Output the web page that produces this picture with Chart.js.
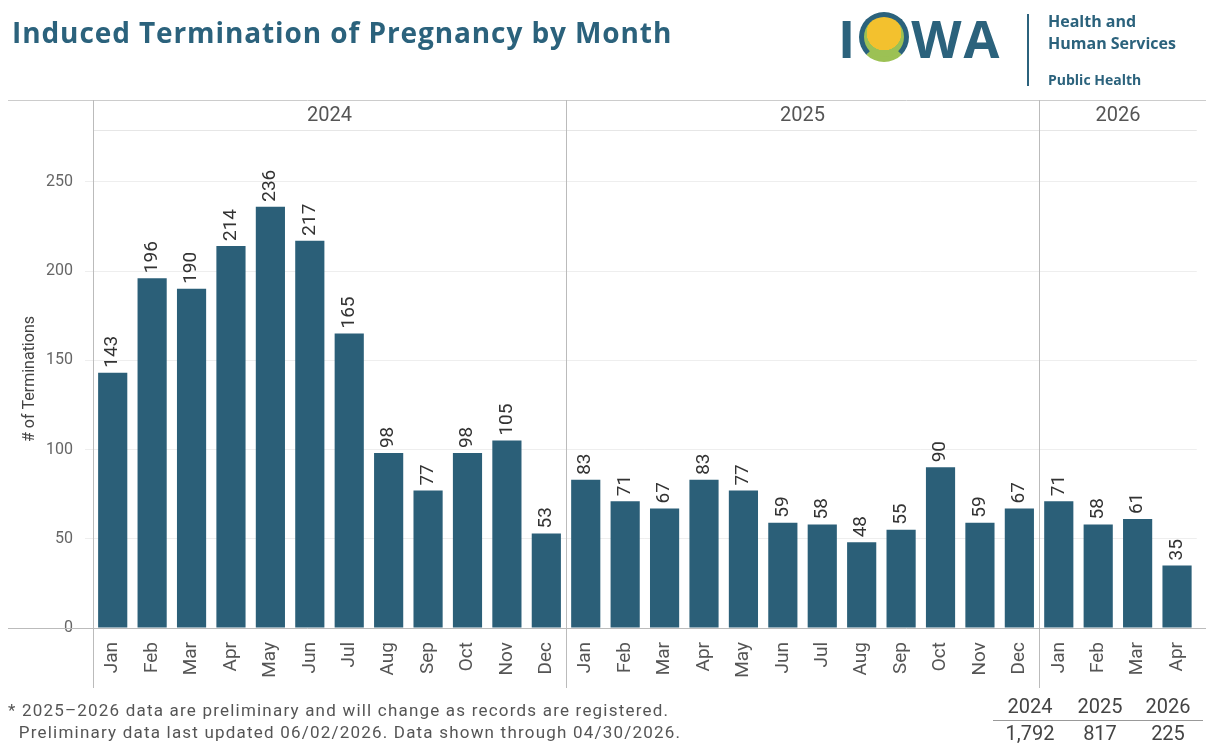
<!DOCTYPE html>
<html><head><meta charset="utf-8">
<script src="https://cdn.jsdelivr.net/npm/chart.js@4"></script>
<style>
body{margin:0;width:1206px;height:750px;background:#fff;font-family:Roboto,"Open Sans",sans-serif;position:relative;overflow:hidden}
.abs{position:absolute;white-space:nowrap}
#c{position:absolute;left:0;top:0}
</style></head><body>
<canvas id="c" width="1206" height="750"></canvas>
<div class="abs" style="left:12px;top:13px;font:bold 28px 'Open Sans',sans-serif;color:#2b627c;letter-spacing:0.9px">Induced Termination of Pregnancy by Month</div>
<div class="abs" style="left:838px;top:2px;font:bold 52px 'Open Sans',sans-serif;color:#2b627c;letter-spacing:2px">I<span style="display:inline-block;width:40px;height:40px;border-radius:50%;background:radial-gradient(circle at 50% 40%,#f3c12e 55%,#9cc154 56%);border:5px solid #2b627c;border-bottom-color:#9cc154;vertical-align:-4px;margin:0 2px"></span>WA</div>
<div class="abs" style="left:1027px;top:14px;width:2px;height:72px;background:#2b627c"></div>
<div class="abs" style="left:1048px;top:10px;font:bold 16px 'Open Sans',sans-serif;color:#2b627c;line-height:22px">Health and<br>Human Services</div>
<div class="abs" style="left:1048px;top:70px;font:bold 14px 'Open Sans',sans-serif;color:#2b627c">Public Health</div>
<div class="abs" style="left:8px;top:699px;font:17px Roboto,sans-serif;color:#555;line-height:22px;letter-spacing:1.2px">* 2025–2026 data are preliminary and will change as records are registered.<br>&nbsp;&nbsp;Preliminary data last updated 06/02/2026. Data shown through 04/30/2026.</div>
<div id="tot"></div>
<script>
const months=["Jan","Feb","Mar","Apr","May","Jun","Jul","Aug","Sep","Oct","Nov","Dec"];
const labels=[...months,...months,"Jan","Feb","Mar","Apr"];
const values=[143,196,190,214,236,217,165,98,77,98,105,53,83,71,67,83,77,59,58,48,55,90,59,67,71,58,61,35];
const years=["2024","2025","2026"];
const yearCounts=[12,12,4];
const totals=["1,792","817","225"];
const tot=document.getElementById('tot');
const tx=[1030,1100,1168];
years.forEach((y,i)=>{tot.insertAdjacentHTML('beforeend',`<div class="abs" style="left:${tx[i]-30}px;width:60px;text-align:center;top:694px;font:20px Roboto;color:#444">${y}</div><div class="abs" style="left:${tx[i]-30}px;width:60px;text-align:center;top:721px;font:20px Roboto;color:#444">${totals[i]}</div>`)});
tot.insertAdjacentHTML('beforeend','<div class="abs" style="left:993px;top:720px;width:210px;height:1px;background:#999"></div>');
const deco={id:'deco',afterDraw(ch){
 const c=ch.ctx,x=ch.scales.x,a=ch.chartArea;
 c.save();c.strokeStyle='#ccc';c.lineWidth=1;
 c.beginPath();c.moveTo(8,100.5);c.lineTo(1206,100.5);c.stroke();
 c.beginPath();c.moveTo(a.left,130.5);c.lineTo(a.right,130.5);c.strokeStyle='#e6e6e6';c.stroke();
 c.strokeStyle='#bbb';c.beginPath();c.moveTo(8,a.bottom+.5);c.lineTo(1206,a.bottom+.5);c.stroke();
 let idx=0;const step=x.getPixelForValue(1)-x.getPixelForValue(0);
 c.font='20px Roboto';c.fillStyle='#555';c.textAlign='center';c.textBaseline='middle';
 const edges=[a.left];
 yearCounts.forEach((n,i)=>{const l=x.getPixelForValue(idx)-step/2,r=x.getPixelForValue(idx+n-1)+step/2;
  c.fillText(years[i],(l+r)/2,116);idx+=n;edges.push(r);});
 c.strokeStyle='#bbb';
 edges.slice(0,3).forEach(e=>{c.beginPath();c.moveTo(Math.round(e)+.5,100);c.lineTo(Math.round(e)+.5,688);c.stroke();});
 const m=ch.getDatasetMeta(0);c.font='19px Roboto';c.fillStyle='#333';c.textAlign='left';
 m.data.forEach((b,i)=>{c.save();c.translate(b.x,b.y-5);c.rotate(-Math.PI/2);c.fillText(values[i],0,0);c.restore();});
 c.restore();}};
new Chart(document.getElementById('c'),{type:'bar',
 data:{labels,datasets:[{data:values,backgroundColor:'#2b5f78',barPercentage:0.74,categoryPercentage:1}]},
 options:{responsive:false,animation:false,layout:{padding:{top:130,bottom:62,right:9,left:0}},
  plugins:{legend:{display:false},tooltip:{enabled:false}},
  scales:{x:{grid:{display:false},border:{display:false},ticks:{maxRotation:90,minRotation:90,color:'#555',font:{size:19,family:'Roboto'},padding:6},afterFit(s){s.height=60}},
   y:{min:0,max:279,afterBuildTicks(s){s.ticks=[0,50,100,150,200,250].map(v=>({value:v}))},grid:{color:'#eee'},border:{display:false},
    ticks:{color:'#666',font:{size:16,family:'Roboto'},padding:12},
    title:{display:true,text:'# of Terminations',color:'#444',font:{size:16,family:'Roboto'},padding:{top:20}},afterFit(s){s.width=93}}}},
 plugins:[deco]});
</script></body></html>
